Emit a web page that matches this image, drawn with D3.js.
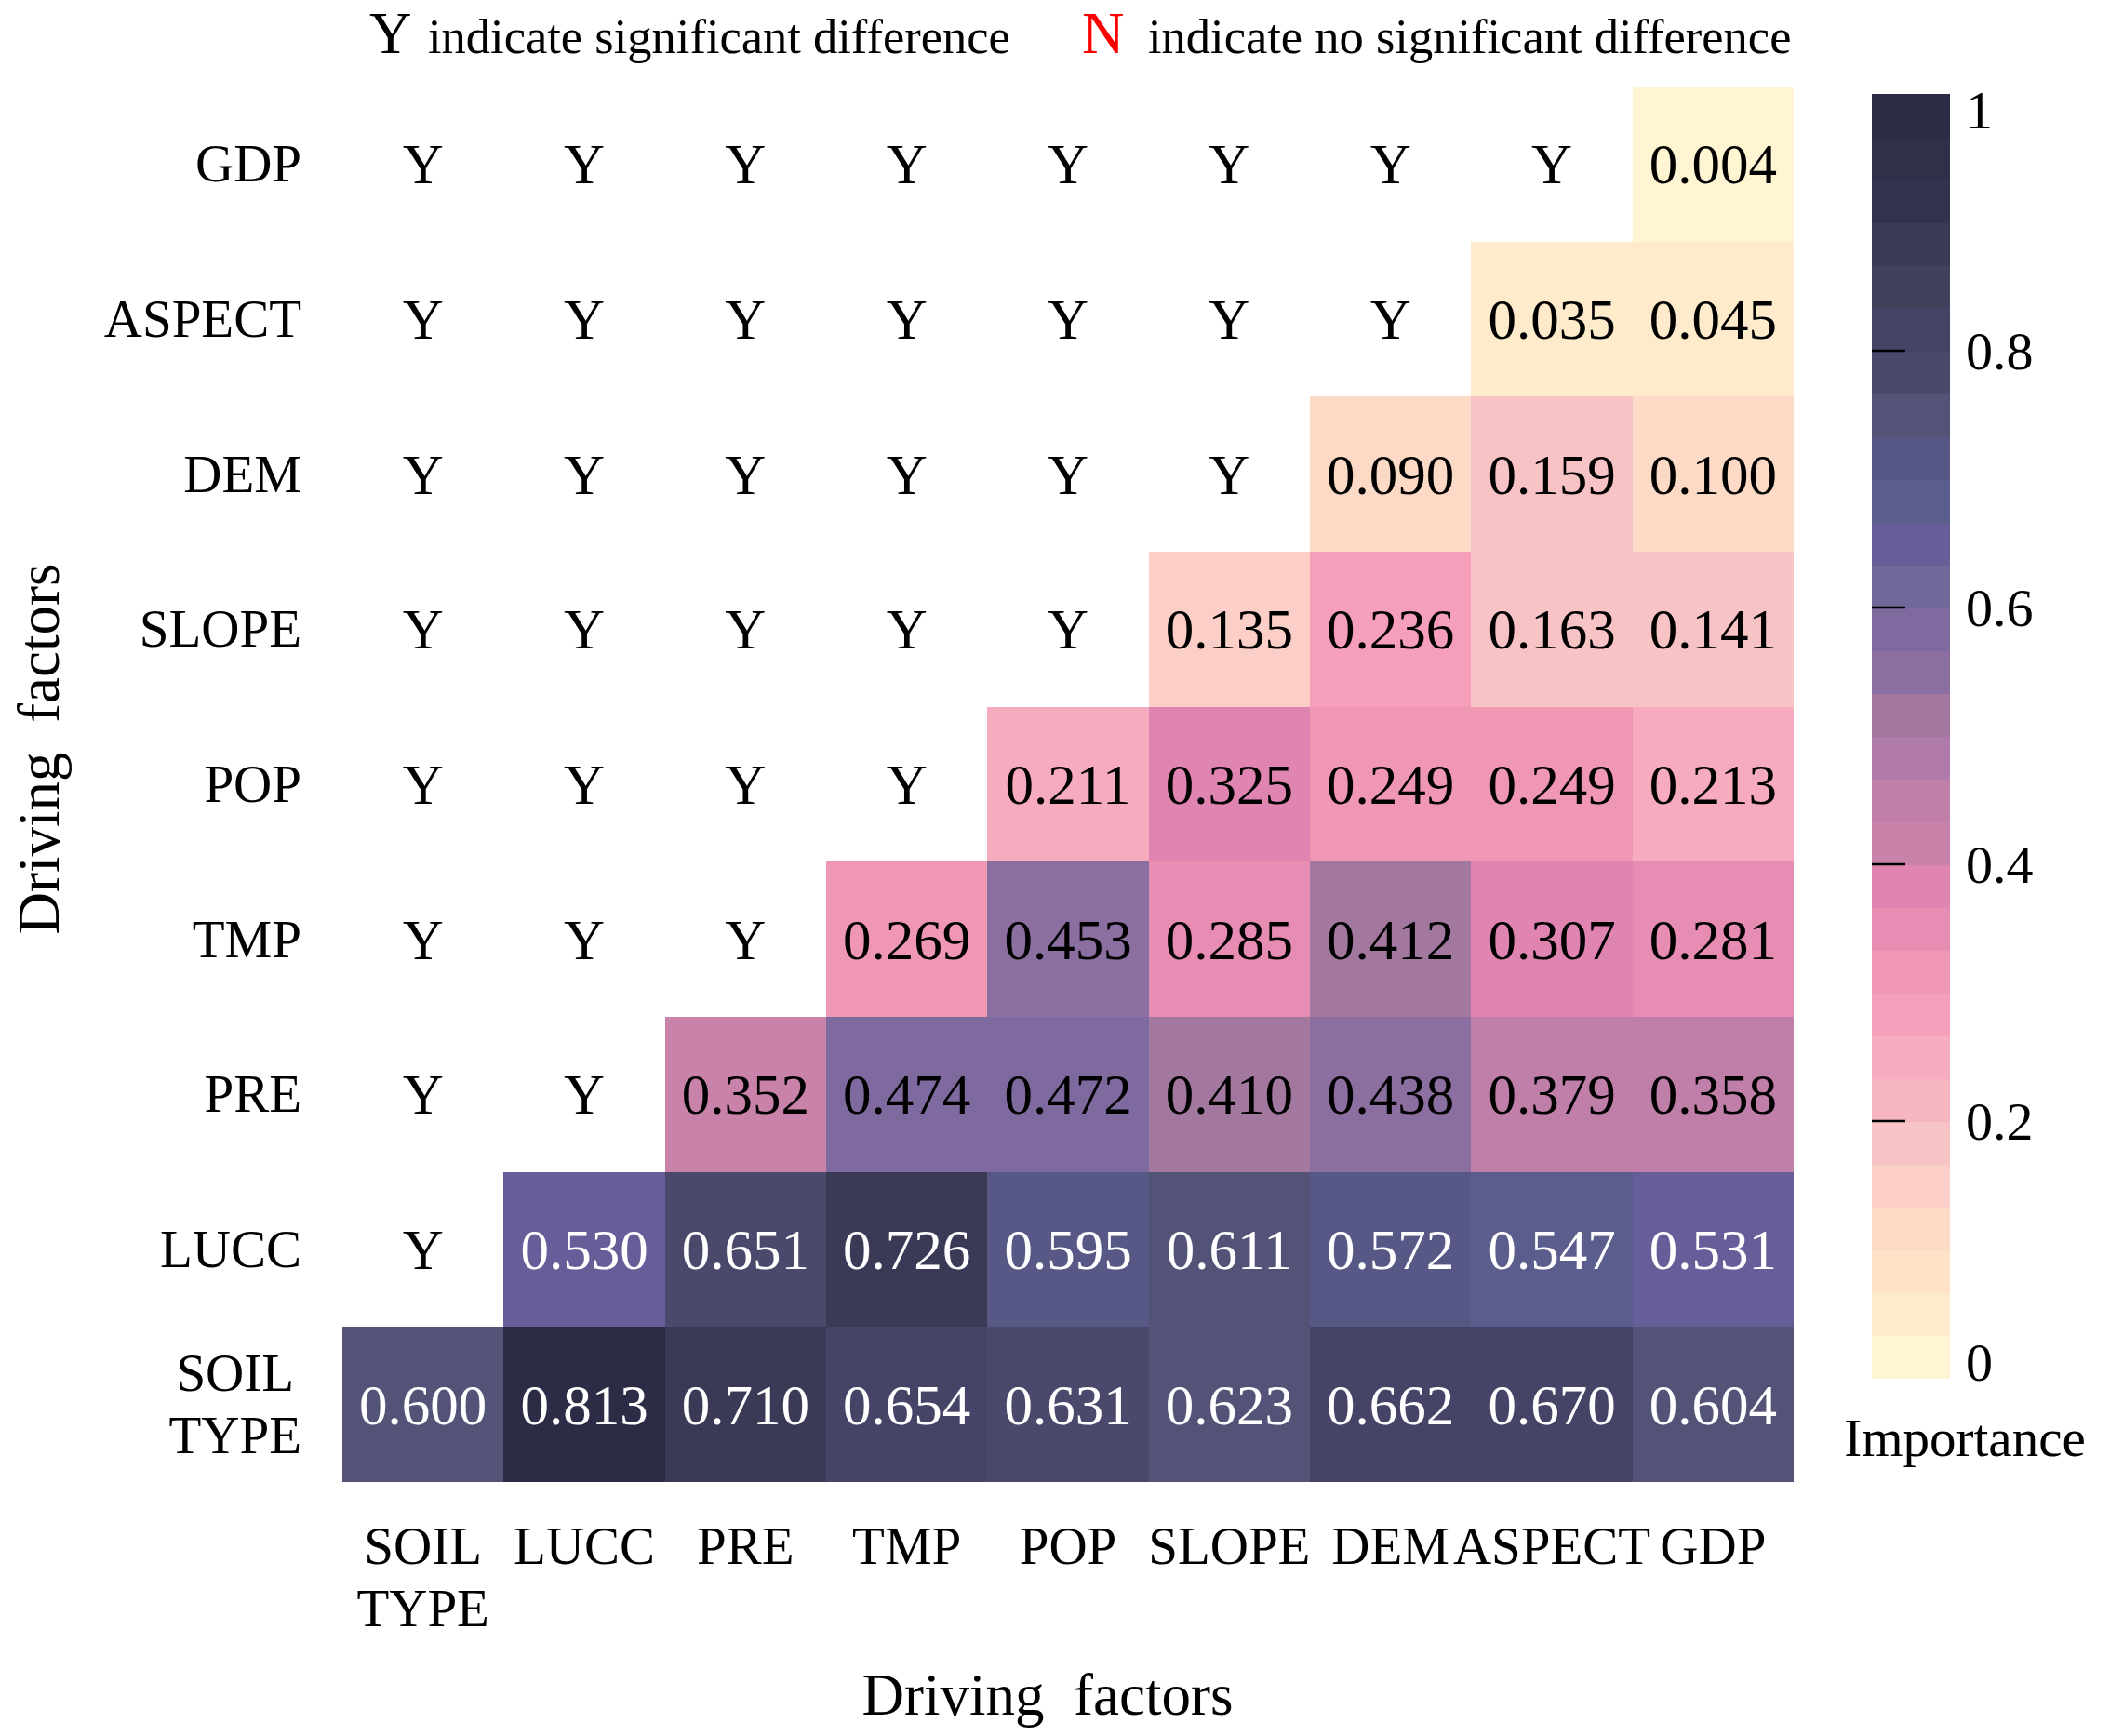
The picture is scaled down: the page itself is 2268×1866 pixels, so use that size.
<!DOCTYPE html>
<html>
<head>
<meta charset="utf-8">
<script src="https://cdn.jsdelivr.net/npm/d3@7"></script>
<style>
  html, body { margin: 0; padding: 0; background: #ffffff; }
  svg text { font-family: "Times New Roman", "Liberation Serif", serif; fill: #000; }
</style>
</head>
<body>
<svg id="chart" width="2268" height="1866"></svg>
<script>
// ---------- data ----------
const factors = ["SOIL TYPE", "LUCC", "PRE", "TMP", "POP", "SLOPE", "DEM", "ASPECT", "GDP"];
const rowsTopDown = ["GDP", "ASPECT", "DEM", "SLOPE", "POP", "TMP", "PRE", "LUCC", "SOIL TYPE"];

// values per row factor, from its own column to GDP column
const valSOIL   = [0.600, 0.813, 0.710, 0.654, 0.631, 0.623, 0.662, 0.670, 0.604];
const valLUCC   = [0.530, 0.651, 0.726, 0.595, 0.611, 0.572, 0.547, 0.531];
const valPRE    = [0.352, 0.474, 0.472, 0.410, 0.438, 0.379, 0.358];
const valTMP    = [0.269, 0.453, 0.285, 0.412, 0.307, 0.281];
const valPOP    = [0.211, 0.325, 0.249, 0.249, 0.213];
const valSLOPE  = [0.135, 0.236, 0.163, 0.141];
const valDEM    = [0.090, 0.159, 0.100];
const valASPECT = [0.035, 0.045];
const valGDP    = [0.004];

// significance marks per row factor, from SOIL TYPE column up to (not incl.) its own column
const sigSOIL   = [];
const sigLUCC   = ["Y"];
const sigPRE    = ["Y", "Y"];
const sigTMP    = ["Y", "Y", "Y"];
const sigPOP    = ["Y", "Y", "Y", "Y"];
const sigSLOPE  = ["Y", "Y", "Y", "Y", "Y"];
const sigDEM    = ["Y", "Y", "Y", "Y", "Y", "Y"];
const sigASPECT = ["Y", "Y", "Y", "Y", "Y", "Y", "Y"];
const sigGDP    = ["Y", "Y", "Y", "Y", "Y", "Y", "Y", "Y"];

const colorTicks = [0, 0.2, 0.4, 0.6, 0.8, 1];
const colorTickLabels = ["0", "0.2", "0.4", "0.6", "0.8", "1"];

// ---------- palette (style) : 30 steps, low -> high ----------
const palette = ["#fff5d2","#fdebcb","#fde2c7","#fddac6","#fbcfc8","#f8c3c5","#f6b6c1","#f6acbe",
  "#f59fba","#ef97b3","#e78cb2","#e085b2","#c983ab","#c07fa9","#b07aab","#a2789f","#8a6fa0",
  "#7f6a9f","#72699b","#665e98","#5b5d8c","#575886","#535277","#4a496c","#454466","#41405d",
  "#3a3a57","#34334f","#31304b","#2d2c46"];

const valueRows = { "SOIL TYPE": valSOIL, "LUCC": valLUCC, "PRE": valPRE, "TMP": valTMP, "POP": valPOP,
  "SLOPE": valSLOPE, "DEM": valDEM, "ASPECT": valASPECT, "GDP": valGDP };
const sigRows = { "SOIL TYPE": sigSOIL, "LUCC": sigLUCC, "PRE": sigPRE, "TMP": sigTMP, "POP": sigPOP,
  "SLOPE": sigSLOPE, "DEM": sigDEM, "ASPECT": sigASPECT, "GDP": sigGDP };

const cells = [];
factors.forEach((rf, ri) => {
  valueRows[rf].forEach((v, k) => cells.push({ row: rf, col: factors[ri + k], value: v }));
  sigRows[rf].forEach((s, k) => cells.push({ row: rf, col: factors[k], mark: s }));
});

// ---------- layout ----------
const svg = d3.select("#chart");
const FONT_CELL = 61, FONT_LABEL = 57, FONT_TITLE = 63;

const x = d3.scaleBand().domain(factors).range([368, 1928]);
const y = d3.scaleBand().domain(rowsTopDown).range([93, 1593]);

const allVals = cells.filter(d => d.value !== undefined).map(d => d.value);
const cellColor = d3.scaleQuantize().domain(d3.extent(allVals)).range(palette);

// cells
svg.append("g").selectAll("rect")
  .data(cells.filter(d => d.value !== undefined))
  .join("rect")
  .attr("x", d => x(d.col)).attr("y", d => y(d.row))
  .attr("width", x.bandwidth()).attr("height", y.bandwidth())
  .attr("fill", d => cellColor(d.value))
  .attr("shape-rendering", "crispEdges");

svg.append("g").selectAll("text")
  .data(cells)
  .join("text")
  .attr("x", d => x(d.col) + x.bandwidth() / 2)
  .attr("y", d => y(d.row) + y.bandwidth() / 2 + 21)
  .attr("text-anchor", "middle")
  .style("font-size", FONT_CELL + "px")
  .style("fill", d => (d.value !== undefined && d.value > 0.5) ? "#ffffff" : "#000000")
  .text(d => d.value !== undefined ? d3.format(".3f")(d.value) : d.mark);

// row labels
const rowLab = svg.append("g");
rowsTopDown.forEach(r => {
  const lines = r.split(" ");
  const cy = y(r) + y.bandwidth() / 2;
  const t = rowLab.append("text").style("font-size", FONT_LABEL + "px");
  lines.forEach((ln, i) => {
    t.append("tspan").attr("y", cy + 19 + (i - (lines.length - 1) / 2) * 67).text(ln);
  });
  if (lines.length === 1) {
    t.attr("text-anchor", "end").selectAll("tspan").attr("x", 324);
  } else {
    const widths = [];
    t.selectAll("tspan").each(function () { widths.push(this.getComputedTextLength()); });
    const w = d3.max(widths);
    t.attr("text-anchor", "middle").selectAll("tspan").attr("x", 324 - w / 2);
  }
});

// column labels
const colLab = svg.append("g");
factors.forEach(c => {
  const lines = c.split(" ");
  const t = colLab.append("text").attr("text-anchor", "middle").style("font-size", FONT_LABEL + "px");
  lines.forEach((ln, i) => {
    t.append("tspan").attr("x", x(c) + x.bandwidth() / 2).attr("y", 1681 + i * 67).text(ln);
  });
});

// axis titles
svg.append("text")
  .attr("x", 1126).attr("y", 1843)
  .attr("text-anchor", "middle")
  .style("font-size", FONT_TITLE + "px").style("white-space", "pre")
  .text("Driving  factors");
svg.append("text")
  .attr("transform", "translate(63,805) rotate(-90)")
  .attr("text-anchor", "middle")
  .style("font-size", FONT_TITLE + "px").style("white-space", "pre")
  .text("Driving  factors");

// top legend
const leg = svg.append("g");
leg.append("text").attr("x", 397).attr("y", 57).style("font-size", "63px").text("Y");
leg.append("text").attr("x", 460).attr("y", 57).style("font-size", "52.5px").text("indicate significant difference");
leg.append("text").attr("x", 1163).attr("y", 57).style("font-size", "63px").style("fill", "#ff0000").text("N");
leg.append("text").attr("x", 1234).attr("y", 57).style("font-size", "52.5px").text("indicate no significant difference");

// colorbar
const cbX = 2012, cbW = 84;
const cbY = d3.scaleLinear().domain([0, 1]).range([1481, 101]);
const bandStep = 1 / palette.length;
svg.append("g").selectAll("rect")
  .data(palette)
  .join("rect")
  .attr("x", cbX)
  .attr("y", (d, i) => cbY((i + 1) * bandStep))
  .attr("width", cbW)
  .attr("height", (d, i) => cbY(i * bandStep) - cbY((i + 1) * bandStep) + 0.5)
  .attr("fill", d => d)
  .attr("shape-rendering", "crispEdges");

const cbTicks = svg.append("g");
colorTicks.forEach((v, i) => {
  if (v > 0 && v < 1) {
    cbTicks.append("line")
      .attr("x1", cbX).attr("x2", cbX + 36)
      .attr("y1", cbY(v)).attr("y2", cbY(v))
      .attr("stroke", "#000").attr("stroke-width", 2.5);
  }
  let ty = cbY(v) + 20;
  if (v === 1) ty = cbY(v) + 37;
  if (v === 0) ty = cbY(v) + 3;
  cbTicks.append("text")
    .attr("x", 2113).attr("y", ty)
    .style("font-size", "58px")
    .text(colorTickLabels[i]);
});
svg.append("text")
  .attr("x", 2112).attr("y", 1565)
  .attr("text-anchor", "middle")
  .style("font-size", "57px")
  .text("Importance");
</script>
</body>
</html>
